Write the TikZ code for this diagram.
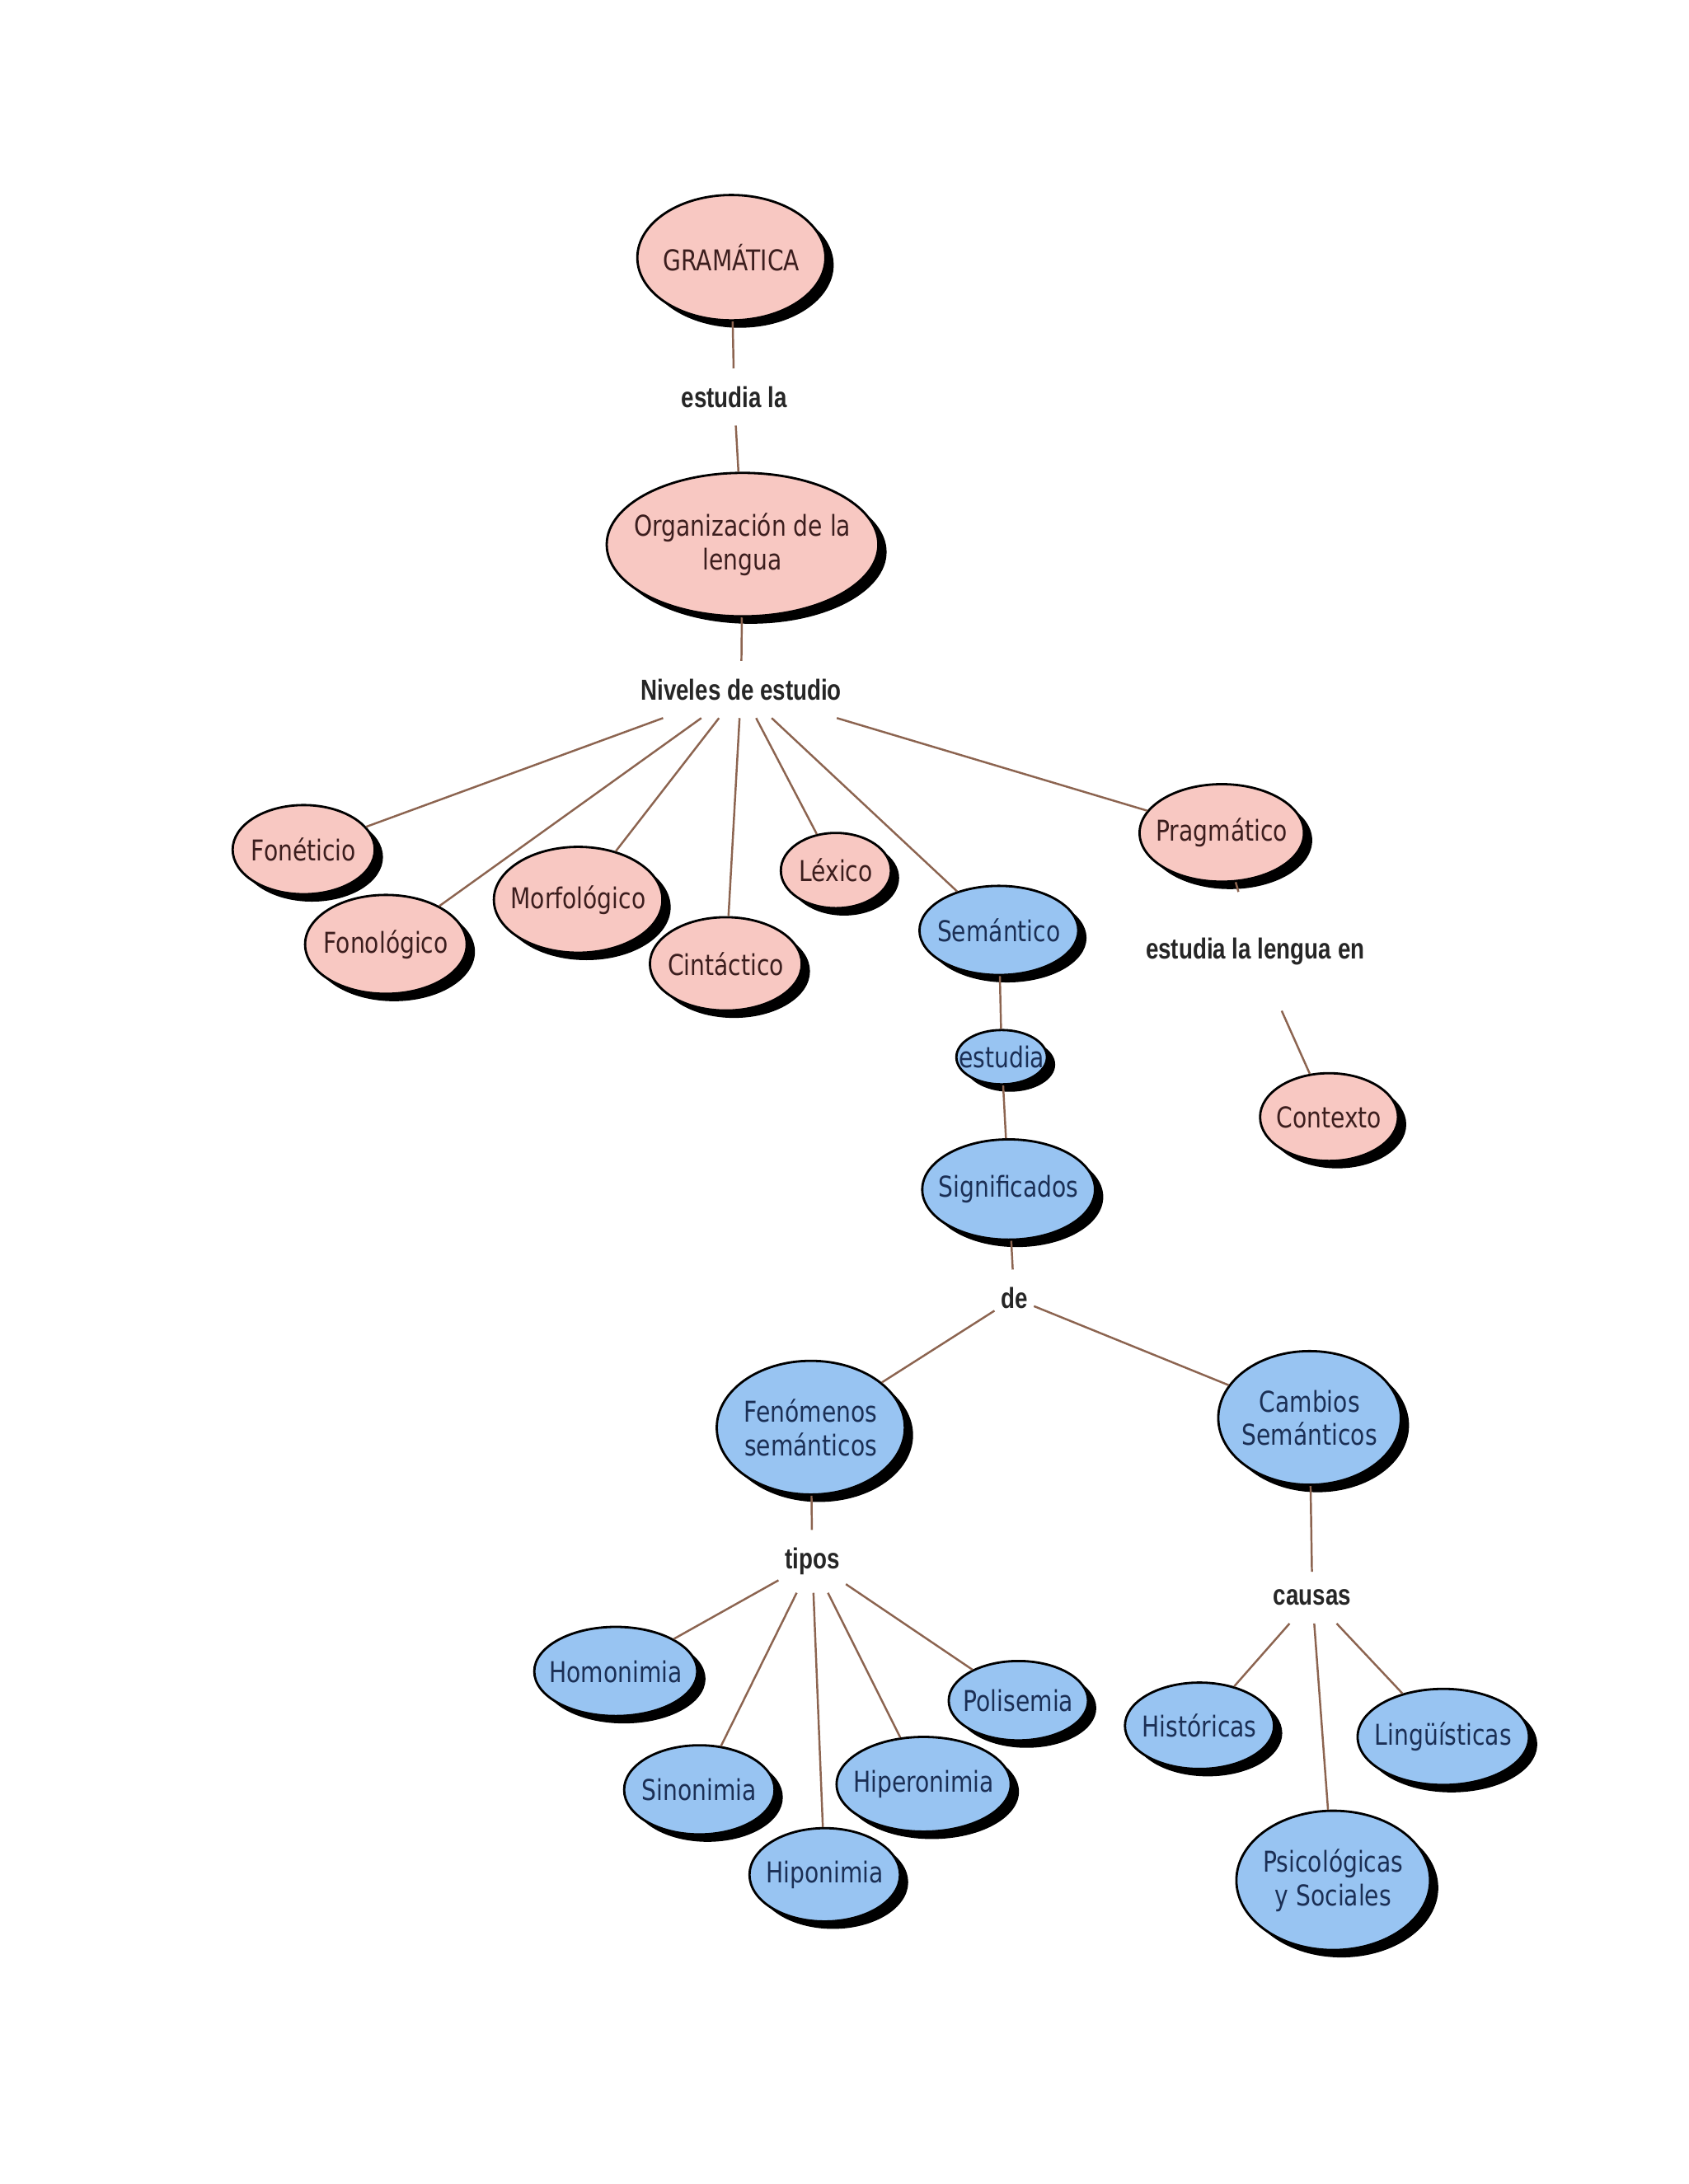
\documentclass[tikz,border=0pt]{standalone}
\usepackage{fontspec}
\setmainfont[FakeStretch=0.81]{DejaVu Sans}
\newfontfamily\linkfont[FakeStretch=0.79]{Liberation Sans}
\usetikzlibrary{shapes.geometric,shadows}

\definecolor{pinkfill}{HTML}{F8C8C2}
\definecolor{pinktext}{HTML}{3C1E1E}
\definecolor{bluefill}{HTML}{98C4F2}
\definecolor{bluetext}{HTML}{1B2F55}
\definecolor{linkbrown}{HTML}{8C6450}

\tikzset{
  concept/.style={ellipse, draw=black, line width=0.8pt, inner xsep=-0.25cm, inner ysep=0pt,
    align=center, font=\fontsize{9.9}{11.6}\selectfont,
    drop shadow={shadow xshift=0.1cm, shadow yshift=-0.09cm, fill=black, opacity=1}},
  pinkc/.style={concept, fill=pinkfill, text=pinktext},
  bluec/.style={concept, fill=bluefill, text=bluetext},
  linkw/.style={font=\linkfont\fontsize{10}{12}\selectfont\bfseries, inner xsep=2pt, inner ysep=6pt, text=black!85},
  sz/.style 2 args={minimum width=#1*0.0169cm, minimum height=#2*0.0169cm},
  conn/.style={draw=linkbrown, line width=0.7pt},
}

\begin{document}
\begin{tikzpicture}[x=0.0169cm, y=-0.0169cm]
  \useasboundingbox (0,0) rectangle (1212,1568);

  % Top of the map
  \node[pinkc, sz={135}{90}] (gram) at (525,185) {GRAMÁTICA};
  \node[linkw] (estla) at (527,285) {estudia la};
  \node[pinkc, sz={195}{103}] (org) at (533,391) {Organización de la\\lengua};
  \node[linkw] (niv) at (532,495) {Niveles de estudio};

  % Levels
  \node[pinkc, sz={102}{64}] (fonet) at (218,610) {Fonéticio};
  \node[pinkc, sz={116}{71}] (fonol) at (277,678) {Fonológico};
  \node[pinkc, sz={121}{76}] (morf) at (415,646) {Morfológico};
  \node[pinkc, sz={109}{67}] (cint) at (521,692) {Cintáctico};
  \node[pinkc, sz={79}{54}] (lex) at (600,625) {Léxico};
  \node[bluec, sz={114}{64}] (sem) at (717,668) {Semántico};
  \node[pinkc, sz={118}{70}] (prag) at (877,598) {Pragmático};

  % Pragmatic branch
  \node[linkw, inner ysep=0.55cm] (estlen) at (901,683) {estudia la lengua en};
  \node[pinkc, sz={99}{63}] (ctx) at (954,802) {Contexto};

  % Semantic branch
  \node[bluec, sz={65}{39}] (est) at (719,759) {estudia};
  \node[bluec, sz={124}{72}] (sig) at (724,854) {Significados};
  \node[linkw] (de) at (728,932) {de};
  \node[bluec, sz={135}{96}] (fen) at (582,1025) {Fenómenos\\semánticos};
  \node[bluec, sz={131}{96}] (camb) at (940,1018) {Cambios\\Semánticos};

  % Types
  \node[linkw] (tipos) at (583,1121) {tipos};
  \node[bluec, sz={117}{64}] (hom) at (442,1200) {Homonimia};
  \node[bluec, sz={108}{64}] (sin) at (502,1285) {Sinonimia};
  \node[bluec, sz={108}{67}] (hipo) at (592,1346) {Hiponimia};
  \node[bluec, sz={125}{68}] (hiper) at (663,1281) {Hiperonimia};
  \node[bluec, sz={100}{57}] (pol) at (731,1221) {Polisemia};

  % Causes
  \node[linkw] (causas) at (942,1147) {causas};
  \node[bluec, sz={107}{62}] (hist) at (861,1239) {Históricas};
  \node[bluec, sz={123}{69}] (ling) at (1036,1247) {Lingüísticas};
  \node[bluec, sz={139}{100}] (psi) at (957,1350) {Psicológicas\\y Sociales};

  % Connectors
  \draw[conn] (gram) -- (estla);
  \draw[conn] (estla) -- (org);
  \draw[conn] (org) -- (niv);
  \foreach \n in {fonet,fonol,morf,cint,lex,sem,prag}
    \draw[conn] (niv) -- (\n);
  \draw[conn] (prag) -- (estlen);
  \draw[conn] (estlen) -- (ctx);
  \draw[conn] (sem) -- (est);
  \draw[conn] (est) -- (sig);
  \draw[conn] (sig) -- (de);
  \draw[conn] (de) -- (fen);
  \draw[conn] (de) -- (camb);
  \draw[conn] (fen) -- (tipos);
  \foreach \n in {hom,sin,hipo,hiper,pol}
    \draw[conn] (tipos) -- (\n);
  \draw[conn] (camb) -- (causas);
  \foreach \n in {hist,psi,ling}
    \draw[conn] (causas) -- (\n);
\end{tikzpicture}
\end{document}
